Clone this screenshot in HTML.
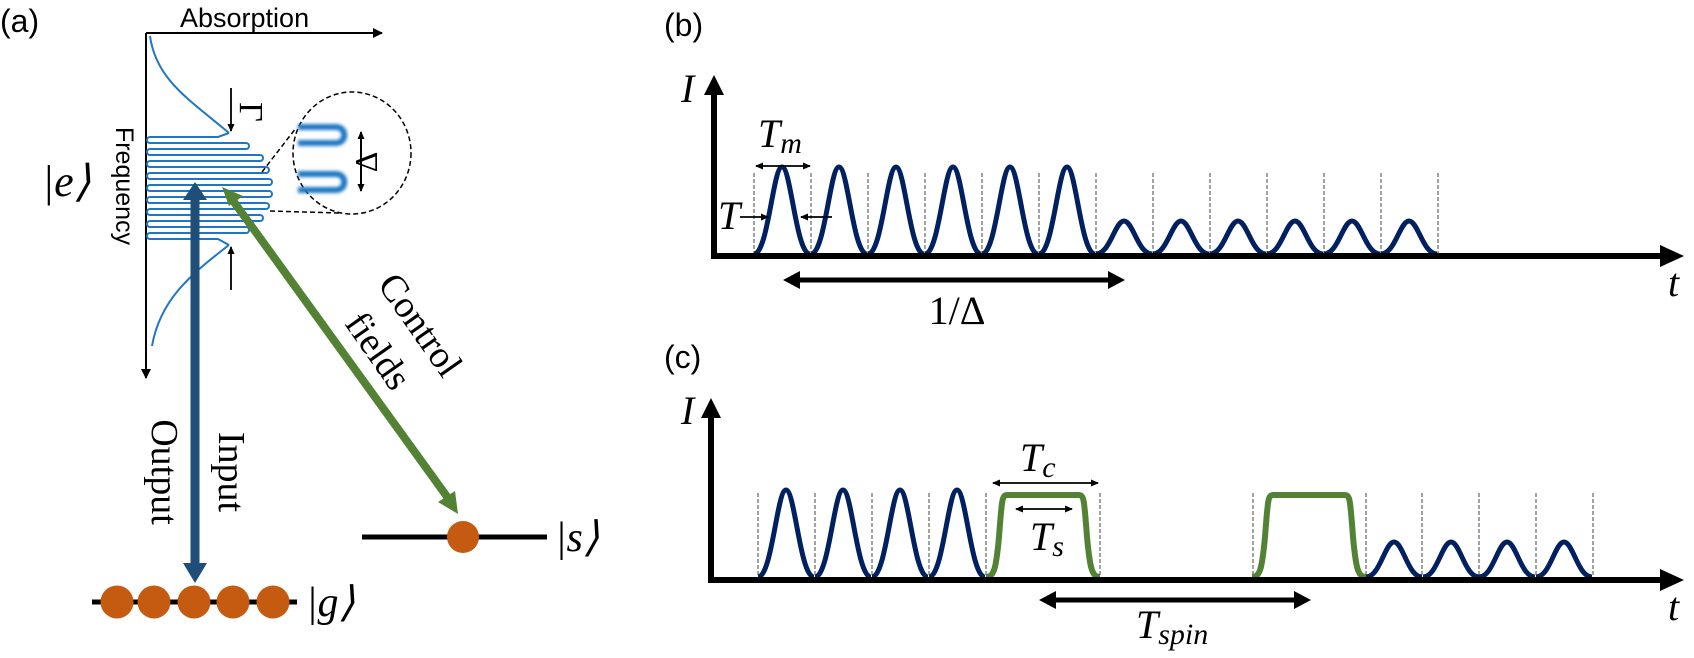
<!DOCTYPE html>
<html><head><meta charset="utf-8"><style>
html,body{margin:0;padding:0;background:#fff;}
svg{display:block;}
.sans{font-family:"Liberation Sans",sans-serif;}
.serif{font-family:"Liberation Serif",serif;}
.m{font-family:"Liberation Serif",serif;font-style:italic;}
</style></head><body>
<svg width="1694" height="658" viewBox="0 0 1694 658" xmlns="http://www.w3.org/2000/svg">
<defs>
<marker id="ah" markerWidth="10" markerHeight="10" refX="9" refY="5" orient="auto-start-reverse" markerUnits="userSpaceOnUse"><path d="M0,0 L10,5 L0,10 z" fill="#000"/></marker>
<marker id="ahs" markerWidth="8" markerHeight="8" refX="7" refY="4" orient="auto-start-reverse" markerUnits="userSpaceOnUse"><path d="M0,0.5 L8,4 L0,7.5 z" fill="#000"/></marker>
<path id="tb" d="M-28,0 C-14,0 -9,-87 0,-87 C9,-87 14,0 28,0" fill="none" stroke="#002060" stroke-width="5"/>
<path id="sb" d="M-28,0 C-14,0 -9,-33 0,-33 C9,-33 14,0 28,0" fill="none" stroke="#002060" stroke-width="5"/>
<path id="tc" d="M-28,0 C-14,0 -9,-87 0,-87 C9,-87 14,0 28,0" fill="none" stroke="#002060" stroke-width="5"/>
<path id="sc" d="M-28,0 C-14,0 -9,-35 0,-35 C9,-35 14,0 28,0" fill="none" stroke="#002060" stroke-width="5"/>
<path id="gp" d="M0,0 C8,0 10,-8 13,-40 C16,-80 16,-82 22,-82 L92,-82 C98,-82 98,-80 101,-40 C104,-8 106,0 114,0" fill="none" stroke="#548235" stroke-width="6"/>
<filter id="blur"><feGaussianBlur stdDeviation="1.5"/></filter>
</defs>

<!-- ===== Panel (a) ===== -->
<text x="0" y="32" class="sans" font-size="32">(a)</text>
<text x="180" y="27" class="sans" font-size="27">Absorption</text>
<line x1="146" y1="33" x2="382" y2="33" stroke="#000" stroke-width="2" marker-end="url(#ah)"/>
<line x1="146" y1="33" x2="146" y2="378" stroke="#000" stroke-width="2" marker-end="url(#ah)"/>
<text transform="translate(116,186) rotate(90)" class="sans" font-size="25" text-anchor="middle">Frequency</text>
<text x="42" y="196" class="m" font-size="44">|e⟩</text>

<!-- spectrum -->
<path d="M150,36 C156,80 190,100 229,133" fill="none" stroke="#1f77c4" stroke-width="2"/>
<path d="M229,133 L218,137 L150,137 C146,137 146,143 150,143 L246,143 C250,143 250,149 246,149 L150,149 C146,149 146,155 150,155 L260,155 C264,155 264,161 260,161 L150,161 C146,161 146,167 150,167 L266,167 C270,167 270,173 266,173 L150,173 C146,173 146,179 150,179 L269,179 C273,179 273,185 269,185 L150,185 C146,185 146,191 150,191 L269,191 C273,191 273,197 269,197 L150,197 C146,197 146,203 150,203 L266,203 C270,203 270,209 266,209 L150,209 C146,209 146,215 150,215 L260,215 C264,215 264,221 260,221 L150,221 C146,221 146,227 150,227 L246,227 C250,227 250,233 246,233 L150,233 C146,233 146,239 150,239 L218,239 L229,245" fill="none" stroke="#1f77c4" stroke-width="2"/>
<path d="M229,245 C190,275 160,300 152,346" fill="none" stroke="#1f77c4" stroke-width="2"/>
<!-- Gamma arrows -->
<line x1="231" y1="88" x2="231" y2="131" stroke="#000" stroke-width="1.8" marker-end="url(#ahs)"/>
<line x1="231" y1="290" x2="231" y2="247" stroke="#000" stroke-width="1.8" marker-end="url(#ahs)"/>
<text transform="translate(240,112) rotate(90)" class="serif" font-size="34" text-anchor="middle">Γ</text>
<!-- zoom circle -->
<ellipse cx="352" cy="153" rx="59" ry="61" fill="none" stroke="#000" stroke-width="1.5" stroke-dasharray="5,3"/>
<line x1="262" y1="172" x2="296" y2="128" stroke="#000" stroke-width="1.5" stroke-dasharray="5,3"/>
<line x1="270" y1="211" x2="339" y2="213" stroke="#000" stroke-width="1.5" stroke-dasharray="5,3"/>
<g filter="url(#blur)" fill="none" stroke="#1f77c4" stroke-width="6">
<path d="M298,127 L336,127 C347,127 347,143 336,143 L298,143"/>
<path d="M298,174 L336,174 C347,174 347,190 336,190 L298,190"/>
</g>
<line x1="361" y1="132" x2="361" y2="191" stroke="#000" stroke-width="2" marker-start="url(#ahs)" marker-end="url(#ahs)"/>
<text transform="translate(377,162) rotate(-90)" class="serif" font-size="32" text-anchor="middle">Δ</text>

<!-- Input/Output arrow -->
<line x1="195" y1="200" x2="195" y2="565" stroke="#1f4e79" stroke-width="9"/>
<path d="M183,200 L195,182 L207,200 z" fill="#1f4e79"/>
<path d="M183,563 L195,583 L207,563 z" fill="#1f4e79"/>
<text transform="translate(152,472) rotate(90)" class="serif" font-size="38" text-anchor="middle">Output</text>
<text transform="translate(219,472) rotate(90)" class="serif" font-size="38" text-anchor="middle">Input</text>

<!-- control arrow -->
<line x1="234" y1="202" x2="448" y2="498" stroke="#548235" stroke-width="8"/>
<path d="M222,187 L243,196 L229,206 z" fill="#548235"/>
<path d="M458,514 L438,502 L455,491 z" fill="#548235"/>
<text transform="translate(410,332) rotate(55)" class="serif" font-size="38" text-anchor="middle">Control</text>
<text transform="translate(368,358) rotate(55)" class="serif" font-size="38" text-anchor="middle">fields</text>

<!-- levels -->
<line x1="362" y1="537" x2="547" y2="537" stroke="#000" stroke-width="5"/>
<circle cx="463" cy="537" r="16" fill="#c55a11"/>
<text x="555" y="551" class="m" font-size="42">|s⟩</text>
<line x1="92" y1="602" x2="297" y2="602" stroke="#000" stroke-width="5"/>
<circle cx="117" cy="602" r="16.5" fill="#c55a11"/>
<circle cx="154" cy="602" r="16.5" fill="#c55a11"/>
<circle cx="194" cy="602" r="16.5" fill="#c55a11"/>
<circle cx="233" cy="602" r="16.5" fill="#c55a11"/>
<circle cx="273" cy="602" r="16.5" fill="#c55a11"/>
<text x="306" y="616" class="m" font-size="42">|g⟩</text>

<!-- ===== Panel (b) ===== -->
<text x="664" y="36" class="sans" font-size="32">(b)</text>
<text x="681" y="102" class="m" font-size="40">I</text>
<g stroke="#444" stroke-width="1" stroke-dasharray="4,2">
<line x1="754" y1="173" x2="754" y2="256"/><line x1="811" y1="173" x2="811" y2="256"/><line x1="868" y1="173" x2="868" y2="256"/><line x1="925" y1="173" x2="925" y2="256"/><line x1="982" y1="173" x2="982" y2="256"/><line x1="1039" y1="173" x2="1039" y2="256"/><line x1="1096" y1="173" x2="1096" y2="256"/><line x1="1153" y1="173" x2="1153" y2="256"/><line x1="1210" y1="173" x2="1210" y2="256"/><line x1="1267" y1="173" x2="1267" y2="256"/><line x1="1324" y1="173" x2="1324" y2="256"/><line x1="1381" y1="173" x2="1381" y2="256"/><line x1="1438" y1="173" x2="1438" y2="256"/>
</g>
<g transform="translate(0,254)">
<use href="#tb" x="782"/><use href="#tb" x="839"/><use href="#tb" x="896"/><use href="#tb" x="953"/><use href="#tb" x="1010"/><use href="#tb" x="1067"/>
<use href="#sb" x="1124"/><use href="#sb" x="1181"/><use href="#sb" x="1238"/><use href="#sb" x="1295"/><use href="#sb" x="1352"/><use href="#sb" x="1409"/>
</g>
<line x1="714" y1="259" x2="714" y2="92" stroke="#000" stroke-width="6"/>
<path d="M704,95 L714,75 L724,95 z" fill="#000"/>
<line x1="711" y1="256" x2="1665" y2="256" stroke="#000" stroke-width="6"/>
<path d="M1660,245 L1684,256 L1660,267 z" fill="#000"/>
<text x="1668" y="296" class="m" font-size="40">t</text>
<text x="758" y="147" class="m" font-size="40">T<tspan font-size="30" dy="6">m</tspan></text>
<line x1="756" y1="166" x2="810" y2="166" stroke="#000" stroke-width="1.8" marker-start="url(#ahs)" marker-end="url(#ahs)"/>
<text x="718" y="229" class="m" font-size="40">T</text>
<line x1="740" y1="217" x2="768" y2="217" stroke="#000" stroke-width="1.8" marker-end="url(#ahs)"/>
<line x1="832" y1="217" x2="801" y2="217" stroke="#000" stroke-width="1.8" marker-end="url(#ahs)"/>
<line x1="790" y1="280" x2="1118" y2="280" stroke="#000" stroke-width="5"/>
<path d="M800,271 L783,280 L800,289 z" fill="#000"/><path d="M1108,271 L1125,280 L1108,289 z" fill="#000"/>
<text x="957" y="324" class="serif" font-size="40" text-anchor="middle">1/Δ</text>

<!-- ===== Panel (c) ===== -->
<text x="664" y="368" class="sans" font-size="32">(c)</text>
<text x="681" y="424" class="m" font-size="40">I</text>
<g stroke="#444" stroke-width="1" stroke-dasharray="4,2">
<line x1="758" y1="493" x2="758" y2="578"/><line x1="815" y1="493" x2="815" y2="578"/><line x1="872" y1="493" x2="872" y2="578"/><line x1="929" y1="493" x2="929" y2="578"/><line x1="986" y1="493" x2="986" y2="578"/><line x1="1100" y1="493" x2="1100" y2="578"/><line x1="1253" y1="493" x2="1253" y2="578"/><line x1="1366" y1="493" x2="1366" y2="578"/><line x1="1422" y1="493" x2="1422" y2="578"/><line x1="1479" y1="493" x2="1479" y2="578"/><line x1="1536" y1="493" x2="1536" y2="578"/><line x1="1593" y1="493" x2="1593" y2="578"/>
</g>
<g transform="translate(0,577)">
<use href="#tc" x="786"/><use href="#tc" x="843"/><use href="#tc" x="900"/><use href="#tc" x="957"/>
<use href="#sc" x="1394"/><use href="#sc" x="1451"/><use href="#sc" x="1507"/><use href="#sc" x="1564"/>
<use href="#gp" x="986"/><use href="#gp" x="1252"/>
</g>
<line x1="711" y1="582" x2="711" y2="415" stroke="#000" stroke-width="6"/>
<path d="M701,418 L711,398 L721,418 z" fill="#000"/>
<line x1="708" y1="580" x2="1665" y2="580" stroke="#000" stroke-width="6"/>
<path d="M1660,569 L1684,580 L1660,591 z" fill="#000"/>
<text x="1668" y="620" class="m" font-size="40">t</text>
<text x="1020" y="471" class="m" font-size="40">T<tspan font-size="30" dy="6">c</tspan></text>
<line x1="993" y1="483" x2="1098" y2="483" stroke="#000" stroke-width="1.8" marker-start="url(#ahs)" marker-end="url(#ahs)"/>
<line x1="1016" y1="509" x2="1072" y2="509" stroke="#000" stroke-width="1.8" marker-start="url(#ahs)" marker-end="url(#ahs)"/>
<text x="1030" y="550" class="m" font-size="40">T<tspan font-size="30" dy="6">s</tspan></text>
<line x1="1045" y1="600" x2="1305" y2="600" stroke="#000" stroke-width="5"/>
<path d="M1056,591 L1039,600 L1056,609 z" fill="#000"/><path d="M1294,591 L1311,600 L1294,609 z" fill="#000"/>
<text x="1136" y="638" class="m" font-size="40">T<tspan font-size="30" dy="6">spin</tspan></text>
</svg>
</body></html>
